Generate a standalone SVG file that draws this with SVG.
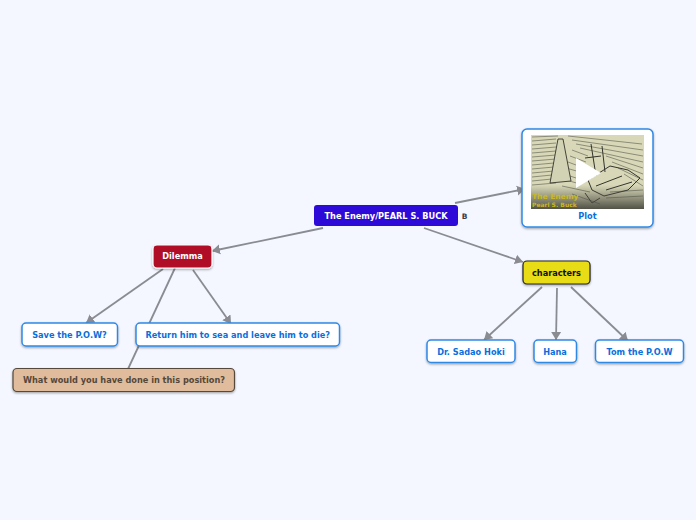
<svg xmlns="http://www.w3.org/2000/svg" width="696" height="520" viewBox="0 0 696 520">
<style>
text{font-family:"DejaVu Sans",sans-serif;font-size:8.2px;font-weight:700;text-anchor:middle}
.c{fill:none;stroke:#8a8c92;stroke-width:1.8}
.n{fill:#fff;stroke:#2f89e6;stroke-width:1.5;filter:url(#s)}
.nt{fill:#0a6fdc}
.i{fill:none;stroke:#6a6c5c;stroke-width:.7}
.d{fill:none;stroke:#33342c;stroke-width:1}
.y{fill:#c9b81e;text-anchor:start}
</style>
<defs>
<marker id="a" markerUnits="userSpaceOnUse" markerWidth="11" markerHeight="12" refX="8" refY="6" orient="auto"><path d="M0 1L8 6L0 11Z" fill="#8a8c92"/></marker>
<filter id="s" x="-10%" y="-20%" width="120%" height="150%"><feDropShadow dx="0" dy="1.2" stdDeviation="1" flood-color="#000" flood-opacity=".35"/></filter>
<linearGradient id="g" x1="0" y1="0" x2="0" y2="1"><stop offset="0" stop-color="#55554a" stop-opacity="0"/><stop offset="1" stop-color="#4a4a40" stop-opacity=".95"/></linearGradient>
</defs>
<rect width="696" height="520" fill="#f4f7ff"/>
<g id="connectors">
<path class="c" marker-end="url(#a)" d="M455 203L525 189"/>
<path class="c" marker-end="url(#a)" d="M424 228L523 262"/>
<path class="c" marker-end="url(#a)" d="M323 228L212 251"/>
<path class="c" marker-end="url(#a)" d="M163 269L86 323"/>
<path class="c" marker-end="url(#a)" d="M193 270L231 324"/>
<path class="c" d="M175 268L128 369"/>
<path class="c" marker-end="url(#a)" d="M542 287L484 340"/>
<path class="c" marker-end="url(#a)" d="M557 288L556 340"/>
<path class="c" marker-end="url(#a)" d="M571 287L628 341"/>
</g>
<g id="node-plot">
<rect class="n" x="522" y="129" width="131" height="98" rx="5"/>
<rect x="531" y="135" width="113" height="74" fill="#d8d8b8"/>
<path class="i" d="M532 137L558 136M532 141L556 139M532 145L556 143M532 149L556 147M532 153L556 151M532 157L556 155M532 161L556 159M532 165L554 163M532 169L554 167M532 173L554 171M532 177L552 175M532 181L552 179M532 185L556 183M568 136L642 144M572 140L643 150M576 144L643 156M580 148L643 162M606 156L643 168M612 162L643 174M618 168L643 180M624 174L643 186M572 150L588 156M570 156L586 162M568 162L584 168M566 168L580 172M564 174L576 178M566 180L580 184M562 186L590 192M610 192L643 190M606 198L643 196M572 194L600 204"/>
<path d="M558 139L563 139L571 181L550 183L555 155Z" fill="#d2d2b4" stroke="#33342c" stroke-width=".9"/>
<path class="d" d="M591 144L596 176M585 158L601 156M602 146L605 172M588 180L610 166L628 170L640 178L628 190L604 196L592 190ZM596 186L622 176M606 190L632 182M585 193L592 203L600 198"/>
<rect x="531" y="185" width="113" height="24" fill="url(#g)"/>
<path d="M576 158L601 173L576 188Z" fill="#fff"/>
<text class="y" x="532" y="199" style="font-size:7.500px">The Enemy</text>
<text class="y" x="532" y="206.500" style="font-size:6px">Pearl S. Buck</text>
<text class="nt" x="587.500" y="219">Plot</text>
</g>
<g id="node-root">
<rect x="314" y="205" width="144" height="21" rx="3" fill="#2e0ad8"/>
<text x="386" y="219" fill="#fff">The Enemy/PEARL S. BUCK</text>
<text x="464.500" y="219" style="font-size:7.500px" fill="#3a3a4a">B</text>
</g>
<g id="node-characters">
<rect x="523" y="261" width="67" height="23" rx="4" fill="#e8dc14" stroke="#222" stroke-width="1.2" filter="url(#s)"/>
<text x="556.500" y="276" fill="#111">characters</text>
</g>
<g id="node-dilemma">
<rect x="153" y="245" width="59" height="23" rx="4" fill="#b00b28" stroke="#fff" stroke-width="1.2" filter="url(#s)"/>
<text x="182.500" y="259" fill="#fff">Dilemma</text>
</g>
<g id="node-save">
<rect class="n" x="22" y="323" width="95.500" height="23" rx="4"/>
<text class="nt" x="69.500" y="338">Save the P.O.W?</text>
</g>
<g id="node-return">
<rect class="n" x="136" y="323" width="203.500" height="23" rx="4"/>
<text class="nt" x="237.800" y="338">Return him to sea and leave him to die?</text>
</g>
<g id="node-question">
<rect x="13" y="368.500" width="221.500" height="23" rx="4" fill="#e0bc9c" stroke="#55483a" stroke-width="1.2" filter="url(#s)"/>
<text x="124" y="383" fill="#55483a">What would you have done in this position?</text>
</g>
<g id="node-sadao">
<rect class="n" x="427" y="340" width="88" height="22.500" rx="4"/>
<text class="nt" x="471" y="354.500">Dr. Sadao Hoki</text>
</g>
<g id="node-hana">
<rect class="n" x="534" y="340" width="42.500" height="22.500" rx="4"/>
<text class="nt" x="555" y="354.500">Hana</text>
</g>
<g id="node-tom">
<rect class="n" x="595.500" y="340" width="88" height="22.500" rx="4"/>
<text class="nt" x="639.500" y="354.500">Tom the P.O.W</text>
</g>
</svg>
